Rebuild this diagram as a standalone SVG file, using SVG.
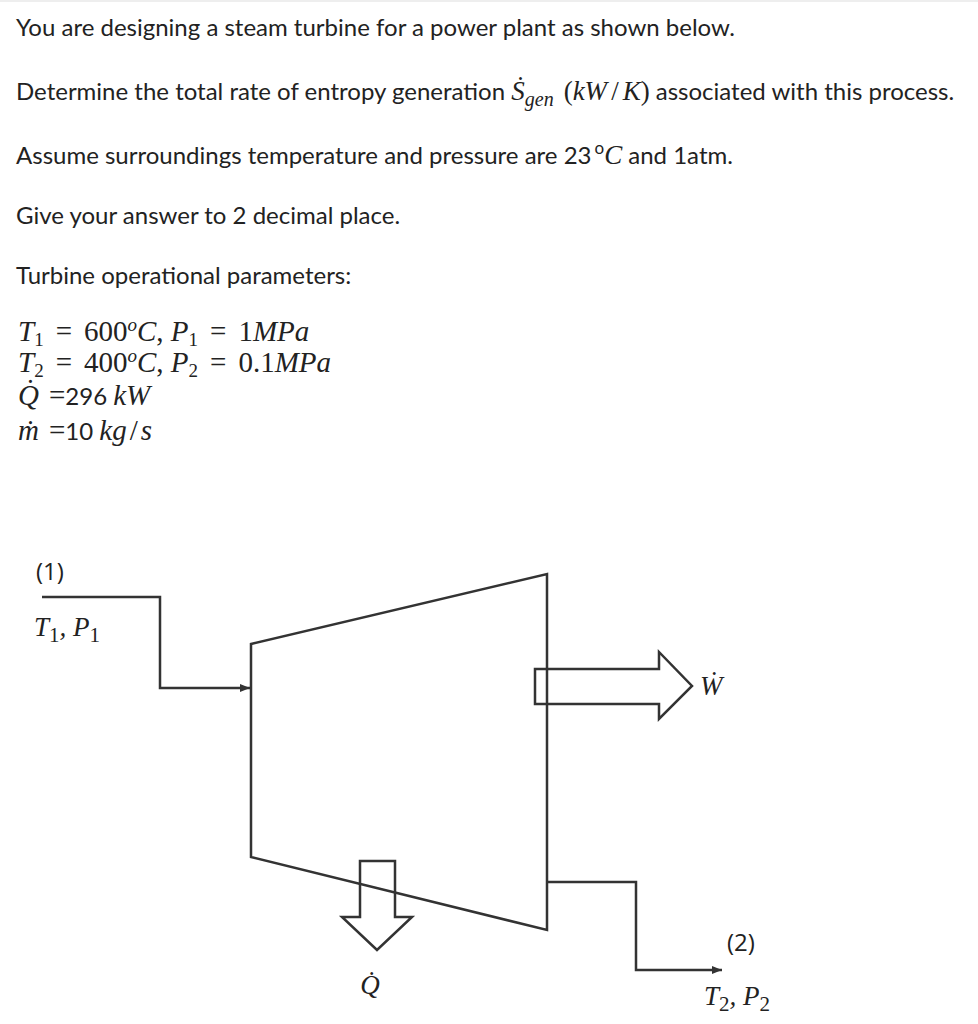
<svg xmlns="http://www.w3.org/2000/svg" width="978" height="1024" viewBox="0 0 978 1024">
<style>
.t{font-family:Lato,"Liberation Sans",sans-serif;font-size:24px;fill:#222}
.m{font-family:"Liberation Serif",serif;font-size:27px;fill:#222}
.e{font-family:"Liberation Serif",serif;font-size:29px;fill:#222}
.i{font-style:italic}
.s{fill:none;stroke:#333;stroke-width:2.5}
.l{font-family:"Open Sans","Liberation Sans",sans-serif;font-size:24px;fill:#222}
</style>
<defs><marker id="ah" markerWidth="10" markerHeight="8" refX="10" refY="4" orient="auto" markerUnits="userSpaceOnUse"><path d="M0,0 L10,4 L0,8 Z" fill="#333"/></marker></defs>
<rect width="978" height="1024" fill="#fff"/>
<line x1="0" y1="1" x2="978" y2="1" stroke="#ddd"/>
<g id="text">
<text class="t" x="16" y="36">You are designing a steam turbine for a power plant as shown below.</text>
<text class="t" x="16" y="100">Determine the total rate of entropy generation <tspan class="m i">Ṡ<tspan font-size="20" dy="6">gen</tspan></tspan><tspan class="m" dy="-6" dx="10">(<tspan class="i">kW</tspan><tspan dx="4">/</tspan><tspan class="i" dx="4">K</tspan>)</tspan> associated with this process.</text>
<text class="t" x="16" y="164">Assume surroundings temperature and pressure are 23<tspan font-size="17" dy="-10" dx="3">o</tspan><tspan class="m i" dy="10">C</tspan> and 1atm.</text>
<text class="t" x="16" y="224">Give your answer to 2 decimal place.</text>
<text class="t" x="16" y="284">Turbine operational parameters:</text>
<text class="e" x="18" y="341"><tspan class="i">T</tspan><tspan font-size="19" dy="5">1</tspan><tspan dy="-5" dx="12">=</tspan><tspan dx="12">600</tspan><tspan class="i" font-size="19" dy="-10">o</tspan><tspan class="i" dy="10">C</tspan>, <tspan class="i">P</tspan><tspan font-size="19" dy="5">1</tspan><tspan dy="-5" dx="12">=</tspan><tspan dx="12">1</tspan><tspan class="i">MPa</tspan></text>
<text class="e" x="18" y="372"><tspan class="i">T</tspan><tspan font-size="19" dy="5">2</tspan><tspan dy="-5" dx="12">=</tspan><tspan dx="12">400</tspan><tspan class="i" font-size="19" dy="-10">o</tspan><tspan class="i" dy="10">C</tspan>, <tspan class="i">P</tspan><tspan font-size="19" dy="5">2</tspan><tspan dy="-5" dx="12">=</tspan><tspan dx="12">0.1</tspan><tspan class="i">MPa</tspan></text>
<text class="e" x="18" y="405"><tspan class="i">Q̇</tspan><tspan dx="10">=</tspan><tspan class="t">296 </tspan><tspan class="i">kW</tspan></text>
<text class="e" x="18" y="440"><tspan class="i">ṁ</tspan><tspan dx="10">=</tspan><tspan class="t">10 </tspan><tspan class="i">kg</tspan><tspan dx="3">/</tspan><tspan class="i" dx="3">s</tspan></text>
</g>
<g id="turbine"><polygon class="s" points="251,644 547,574 547,930 251,857"/></g>
<g id="work"><polygon class="s" points="535,669 659,669 659,652 692,686 659,719 659,704 535,704"/><text class="m i" x="700" y="695" font-size="31">Ẇ</text></g>
<g id="heat"><polygon class="s" points="360,861 395,861 395,917 412,917 377,950 342,917 360,917"/><text class="m i" x="370" y="994" text-anchor="middle" font-size="31">Q̇</text></g>
<g id="connectors">
<polyline class="s" points="42,597 160,597 160,688 250,688" marker-end="url(#ah)"/>
<polyline class="s" points="547,882 636,882 636,970 722,970" marker-end="url(#ah)"/>
</g>
<g id="labels">
<text class="l" x="36" y="580">(1)</text>
<text class="m i" x="34" y="636" font-size="31">T<tspan font-size="21" font-style="normal" dy="6">1</tspan><tspan dy="-6">, P</tspan><tspan font-size="21" font-style="normal" dy="6">1</tspan></text>
<text class="l" x="727" y="951">(2)</text>
<text class="m i" x="704" y="1005" font-size="31">T<tspan font-size="21" font-style="normal" dy="6">2</tspan><tspan dy="-6">, P</tspan><tspan font-size="21" font-style="normal" dy="6">2</tspan></text>
</g>
</svg>
